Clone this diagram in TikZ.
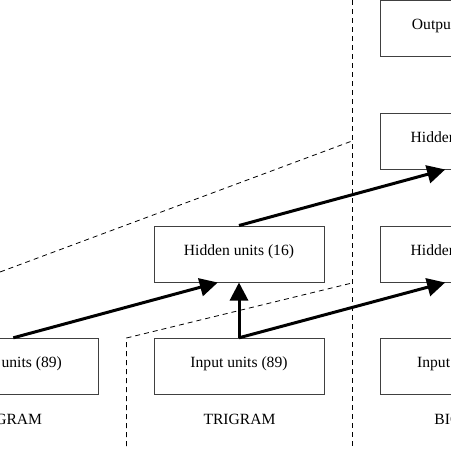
\documentclass[tikz,border=0pt]{standalone}
\usepackage{fontspec}
\setmainfont{Liberation Serif}
\usetikzlibrary{arrows.meta,calc}
\begin{document}
\begin{tikzpicture}[x=1pt,y=-1pt,
  unitbox/.style={draw=black!75,line width=1pt,minimum width=170pt,minimum height=56pt,inner sep=0pt,text height=10pt,text depth=8pt,font=\fontsize{15.6}{18}\selectfont},
  lbl/.style={font=\fontsize{15.6}{18}\selectfont,inner sep=0pt,anchor=base},
  conn/.style={line width=3pt,-{Triangle[length=18pt,width=18pt]}},
  sep/.style={line width=0.8pt,dash pattern=on 5pt off 4pt}]
\useasboundingbox (0,0) rectangle (451,451);
\clip (0,0) rectangle (451,451);
% separators
\coordinate (vtop) at (352,0);
\coordinate (vbot) at (352,446);
\coordinate (d1a) at (0,272);
\coordinate (d1b) at (352,141);
\coordinate (d2a) at (126.5,338);
\coordinate (d2b) at (352,283);
\coordinate (d2c) at (126.5,446);
\draw[sep] (vtop) -- (vbot);
\draw[sep] (d1a) -- (d1b);
\draw[sep] (d2c) -- (d2a) -- (d2b);
% boxes
\node[unitbox] (lin) at (13.3,366.3) {Input units (89)};
\node[unitbox] (th) at (239,254) {Hidden units (16)};
\node[unitbox] (ti) at (239,366.3) {Input units (89)};
\node[unitbox] (bo) at (465.7,28) {Output units (89)};
\node[unitbox] (bh2) at (465.7,141) {Hidden units (16)};
\node[unitbox] (bh) at (465.7,254) {Hidden units (16)};
\node[unitbox] (bi) at (465.7,366.3) {Input units (89)};
% labels
\node[lbl,anchor=base east] (l4) at (42.3,424) {GRAM};
\node[lbl] (l3) at (239.5,424) {TRIGRAM};
\node[lbl] (l2) at (465.7,424) {BIGRAM};
% connectors
\draw[conn] (lin.north) -- ($(th.south west)!0.376!(th.south east)$);
\draw[conn] (ti.north) -- (th.south);
\draw[conn] (ti.north) -- ($(bh.south west)!0.38!(bh.south east)$);
\draw[conn] (th.north) -- ($(bh2.south west)!0.38!(bh2.south east)$);
\end{tikzpicture}
\end{document}
